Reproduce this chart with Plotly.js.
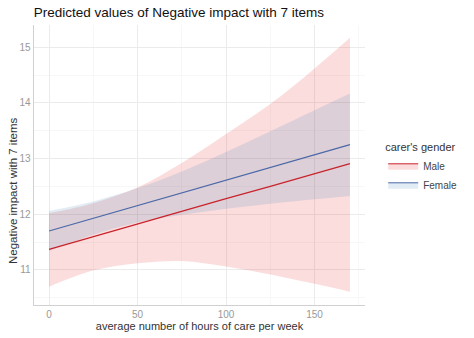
<!DOCTYPE html>
<html>
<head>
<meta charset="utf-8">
<script src="https://cdn.plot.ly/plotly-3.0.1.min.js"></script>
<style>html,body{margin:0;padding:0;background:#fff;}#chart{width:474px;height:338px;}</style>
</head>
<body>
<div id="chart"></div>
<script>
// Hours of care per week (x values)
const hours = [0, 25, 50, 75, 100, 125, 150, 170];
// Male predictions and 95% CI
const maleFit   = [11.37, 11.60, 11.82, 12.05, 12.28, 12.50, 12.73, 12.91];
const maleUpper = [12.02, 12.20, 12.48, 12.92, 13.44, 13.98, 14.62, 15.17];
const maleLower = [10.70, 10.99, 11.12, 11.16, 11.06, 10.92, 10.75, 10.61];
// Female predictions and 95% CI
const femaleFit   = [11.70, 11.93, 12.16, 12.38, 12.61, 12.84, 13.07, 13.25];
const femaleUpper = [12.06, 12.23, 12.47, 12.77, 13.12, 13.49, 13.87, 14.17];
const femaleLower = [11.34, 11.63, 11.85, 11.99, 12.10, 12.19, 12.27, 12.33];
const groups = ["Male", "Female"];
const lineColors = ["#c8232b", "#4a68a8"];
const fillColors = ["rgba(228,26,28,0.15)", "rgba(55,126,184,0.15)"];

const series = [
  {fit: maleFit, up: maleUpper, lo: maleLower},
  {fit: femaleFit, up: femaleUpper, lo: femaleLower}
];
const traces = [];
series.forEach((s, i) => {
  traces.push({x: hours, y: s.up, mode: "lines", line: {width: 0, shape: "spline"}, showlegend: false, hoverinfo: "skip", legendgroup: groups[i]});
  traces.push({x: hours, y: s.lo, mode: "lines", line: {width: 0, shape: "spline"}, fill: "tonexty", fillcolor: fillColors[i], showlegend: false, hoverinfo: "skip", legendgroup: groups[i]});
});
series.forEach((s, i) => {
  traces.push({x: hours, y: s.fit, mode: "lines", line: {color: lineColors[i], width: 1.2}, showlegend: false, legendgroup: groups[i]});
});
// legend-only entries
groups.forEach((g, i) => {
  traces.push({x: [null], y: [null], name: g, mode: "lines", fill: "toself", fillcolor: fillColors[i], line: {color: lineColors[i], width: 1}, legendgroup: g});
});

const layout = {
  width: 474, height: 338,
  margin: {l: 34, r: 97, t: 25, b: 33},
  paper_bgcolor: "#fff", plot_bgcolor: "#fff",
  font: {family: "Liberation Sans, Arial, sans-serif", color: "#333"},
  title: {text: "Predicted values of Negative impact with 7 items", font: {size: 13.5, color: "#111"}, x: 0.071, xanchor: "left", xref: "container", y: 0.963, yanchor: "middle"},
  xaxis: {
    range: [-8.5, 178.5], tickvals: [0, 50, 100, 150], ticks: "", showline: true, linecolor: "#d0d0d0", linewidth: 1.3,
    gridcolor: "#ebebeb", gridwidth: 1, zeroline: false, tickfont: {size: 10, color: "#999"},
    minor: {tickvals: [25, 75, 125, 175], showgrid: true, gridcolor: "#f5f5f5", gridwidth: 0.8},
    title: {text: "average number of hours of care per week", font: {size: 11, color: "#333"}, standoff: 3}
  },
  yaxis: {
    range: [10.37, 15.4], tickvals: [11, 12, 13, 14, 15], ticks: "", showline: true, linecolor: "#d0d0d0", linewidth: 1.3,
    gridcolor: "#ebebeb", gridwidth: 1, zeroline: false, tickfont: {size: 10, color: "#999"},
    minor: {tickvals: [10.5, 11.5, 12.5, 13.5, 14.5], showgrid: true, gridcolor: "#f5f5f5", gridwidth: 0.8}
  },
  annotations: [{
    text: "Negative impact with 7 items", textangle: -90, showarrow: false,
    xref: "paper", yref: "paper", x: -0.064, y: 0.41, xanchor: "center", yanchor: "middle",
    font: {size: 11.5, color: "#333"}
  }],
  legend: {x: 1.055, xanchor: "left", y: 0.60, yanchor: "top", font: {size: 10, color: "#444"},
    title: {text: "carer's gender", font: {size: 11, color: "#333"}}, tracegroupgap: 0, itemwidth: 30},
  showlegend: true
};
Plotly.newPlot("chart", traces, layout, {displayModeBar: false, staticPlot: true});
</script>
</body>
</html>
